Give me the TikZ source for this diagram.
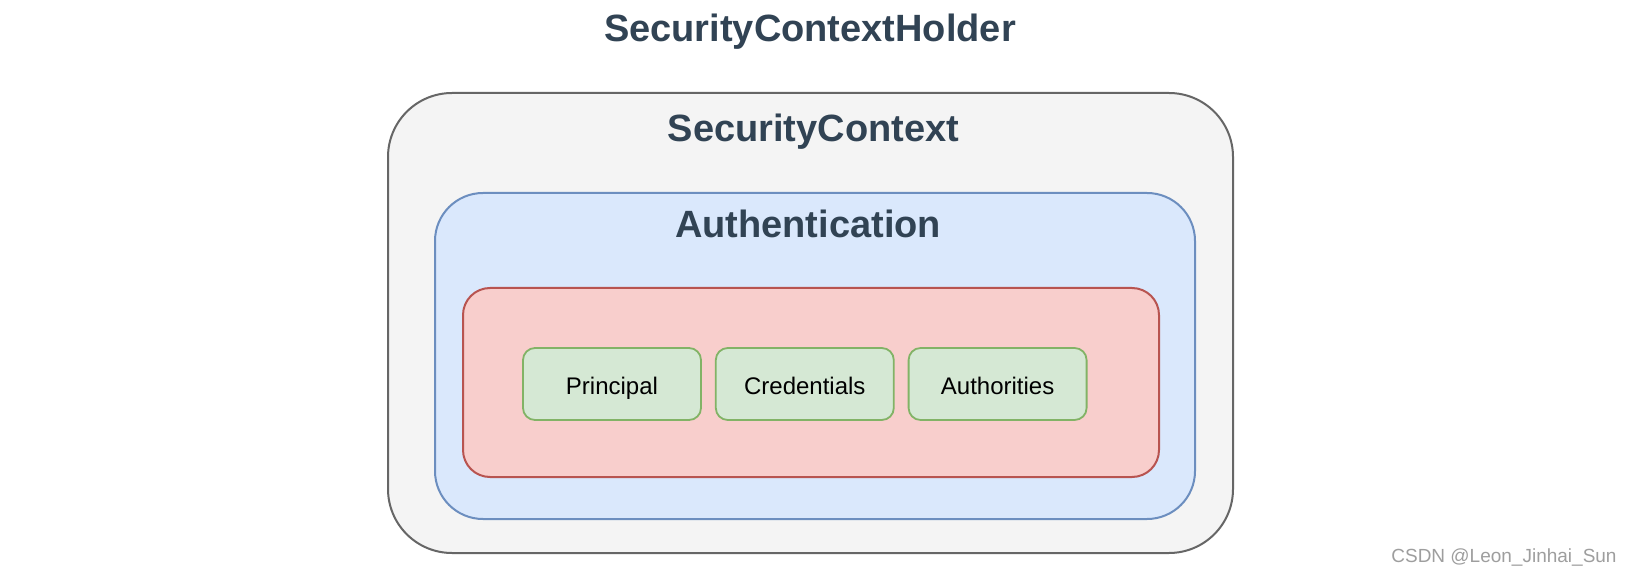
\documentclass[tikz,border=0pt]{standalone}
\usepackage{fontspec}
\setmainfont{Liberation Sans}
\usetikzlibrary{positioning}
\definecolor{titlefg}{HTML}{314354}
\definecolor{ctxfill}{HTML}{F4F4F4}
\definecolor{ctxdraw}{HTML}{666666}
\definecolor{authfill}{HTML}{DAE8FC}
\definecolor{authdraw}{HTML}{6C8EBF}
\definecolor{detfill}{HTML}{F8CECC}
\definecolor{detdraw}{HTML}{B85450}
\definecolor{itemfill}{HTML}{D5E8D4}
\definecolor{itemdraw}{HTML}{82B366}

\begin{document}
\begin{tikzpicture}[x=0.5pt, y=-0.5pt,
    box/.style={draw, rounded corners=#1, line width=1pt, inner sep=0pt},
    title/.style={font=\fontsize{19}{22}\selectfont\bfseries, text=titlefg, anchor=base, inner sep=0pt},
    item/.style={draw=itemdraw, fill=itemfill, rounded corners=6pt, line width=0.9pt,
      minimum width=89pt, minimum height=36pt, inner sep=0pt, text height=11pt, text depth=1pt,
      font=\fontsize{12}{14}\selectfont}]
    \useasboundingbox[fill=white] (0,0) rectangle (1632,582);
    % nested containers
    \node[box=32pt, draw=ctxdraw, fill=ctxfill, minimum width=422.5pt, minimum height=230pt] (context) at (810.5,323) {};
    \node[box=24pt, draw=authdraw, fill=authfill, minimum width=380pt, minimum height=163pt] (auth) at (815,356) {};
    \node[box=13.5pt, draw=detdraw, fill=detfill, minimum width=348pt, minimum height=94.5pt] (details) at (811,382.5) {};
    % titles
    \node[title] (holder) at (810,42) {SecurityContextHolder};
    \node[title] (contexttitle) at (813.5,142) {SecurityContext};
    \node[title] (authtitle) at (808,238) {Authentication};
    % contents of the authentication
    \node[item] (principal) at (612,384) {Principal};
    \node[item, right=6.5pt of principal] (credentials) {Credentials};
    \node[item, right=6.5pt of credentials] (authorities) {Authorities};
    \node[anchor=base east, text=black!38, font=\fontsize{9.5}{11}\selectfont, inner sep=0pt] (mark) at (1617,562) {CSDN @Leon\_Jinhai\_Sun};
\end{tikzpicture}
\end{document}
